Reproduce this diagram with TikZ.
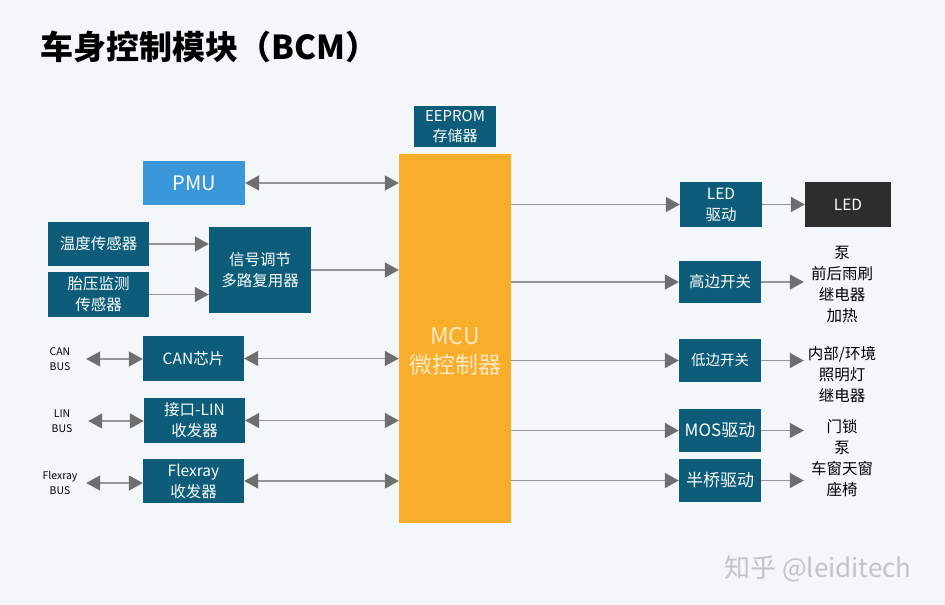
\documentclass[tikz,border=0pt]{standalone}
\usepackage{fontspec}
\setmainfont{Noto Sans CJK SC}
\usetikzlibrary{arrows.meta}

\definecolor{bgcol}{RGB}{244,247,250}
\definecolor{boxteal}{RGB}{12,92,122}
\definecolor{mcuorange}{RGB}{249,174,43}
\definecolor{mcutext}{RGB}{253,232,196}
\definecolor{pmublue}{RGB}{58,151,217}
\definecolor{leddark}{RGB}{45,45,45}
\definecolor{linegray}{RGB}{150,150,150}
\definecolor{tipgray}{RGB}{110,110,110}
\definecolor{markgray}{RGB}{195,195,195}

\begin{document}
\begin{tikzpicture}[x=1pt,y=-1pt,
  >={Triangle[length=14pt,width=15pt,color=tipgray]},
  blk/.style={fill=boxteal,text=white,inner sep=0pt,align=center,
    font=\fontsize{15.5}{21}\selectfont},
  big/.style={font=\fontsize{17}{21}\selectfont},
  bus/.style={align=center,inner sep=0pt,minimum width=52pt,
    font=\fontsize{10.5}{15}\selectfont},
  load/.style={align=center,inner sep=0pt,minimum width=76pt,
    font=\fontsize{15.5}{21}\selectfont},
  link/.style={draw=linegray,line width=1.6pt}]
  \useasboundingbox[fill=bgcol] (0,0) rectangle (945,605);
  % Title
  \node[anchor=west,inner sep=0pt,font=\fontsize{33}{36}\selectfont\bfseries]
    (title) at (40,47) {车身控制模块（BCM）};
  % Controller
  \node[fill=boxteal,text=white,inner sep=0pt,align=center,
    minimum width=82pt,minimum height=41pt,
    font=\fontsize{15}{20}\selectfont] (eeprom) at (455,126.5) {EEPROM\\存储器};
  \node[fill=mcuorange,minimum width=112pt,minimum height=369pt] (mcu) at (455,338.5) {};
  \node[text=mcutext,align=center,font=\fontsize{23}{29}\selectfont]
    (mcutxt) at (455,351) {MCU\\微控制器};
  % Left blocks
  \node[fill=pmublue,text=white,inner sep=0pt,minimum width=102pt,minimum height=44pt,
    font=\fontsize{20}{24}\selectfont] (pmu) at (194,183) {PMU};
  \node[blk,minimum width=101pt,minimum height=44pt] (temp) at (98.5,244) {温度传感器};
  \node[blk,minimum width=101pt,minimum height=45pt] (tire) at (98.5,294.5) {胎压监测\\传感器};
  \node[blk,minimum width=102pt,minimum height=86pt] (mux) at (260,270) {信号调节\\多路复用器};
  \node[blk,minimum width=101pt,minimum height=45pt] (can) at (193.5,358.5) {CAN芯片};
  \node[blk,minimum width=101pt,minimum height=45pt] (lin) at (194.5,420.5) {接口-LIN\\收发器};
  \node[blk,minimum width=101pt,minimum height=44pt] (flex) at (193.5,481) {Flexray\\收发器};
  % Bus labels
  \node[bus] (canbus) at (60,359) {CAN\\BUS};
  \node[bus] (linbus) at (62,421) {LIN\\BUS};
  \node[bus] (flexbus) at (60,483) {Flexray\\BUS};
  % Right blocks
  \node[blk,minimum width=82pt,minimum height=45pt] (leddrv) at (721,204.5) {LED\\驱动};
  \node[fill=leddark,text=white,inner sep=0pt,minimum width=86pt,minimum height=45pt,
    font=\fontsize{15.5}{21}\selectfont] (led) at (848,204.5) {LED};
  \node[blk,minimum width=82pt,minimum height=42pt] (hs) at (720,282) {高边开关};
  \node[blk,minimum width=82pt,minimum height=43pt,
    font=\fontsize{14.5}{20}\selectfont] (ls) at (720,360.5) {低边开关};
  \node[blk,big,minimum width=82pt,minimum height=43pt] (mos) at (720,430.5) {MOS驱动};
  \node[blk,big,minimum width=82pt,minimum height=43pt] (hb) at (720,480.5) {半桥驱动};
  % Loads
  \node[load,anchor=north] (hsout) at (842,246) {泵\\前后雨刷\\继电器\\加热};
  \node[load,anchor=north] (lsout) at (842,346) {内部/环境\\照明灯\\继电器};
  \node[load,anchor=north] (mosout) at (842,419) {门锁\\泵\\车窗天窗\\座椅};
  % Connections, left side
  \draw[link,<->] (pmu.east) -- (pmu.east -| mcu.west);
  \draw[link,->] (temp.east) -- (temp.east -| mux.west);
  \draw[link,->] (tire.east) -- (tire.east -| mux.west);
  \draw[link,->] (mux.east) -- (mux.east -| mcu.west);
  \draw[link,<->] (canbus.east) -- (canbus.east -| can.west);
  \draw[link,<->] (linbus.east) -- (linbus.east -| lin.west);
  \draw[link,<->] (flexbus.east) -- (flexbus.east -| flex.west);
  \draw[link,<->] (can.east) -- (can.east -| mcu.west);
  \draw[link,<->] (lin.east) -- (lin.east -| mcu.west);
  \draw[link,<->] (flex.east) -- (flex.east -| mcu.west);
  % Connections, right side
  \foreach \blk in {leddrv,hs,ls,mos,hb}
    \draw[link,->] (mcu.east |- \blk.west) -- (\blk.west);
  \draw[link,->] (leddrv.east) -- (led.west);
  \draw[link,->] (hs.east) -- (hs.east -| hsout.west);
  \draw[link,->] (ls.east) -- (ls.east -| lsout.west);
  \draw[link,->] (mos.east) -- (mos.east -| mosout.west);
  \draw[link,->] (hb.east) -- (hb.east -| mosout.west);
  % Watermark
  \node[text=markgray,font=\fontsize{26}{30}\selectfont] (mark) at (818,569) {知乎 @leiditech};
\end{tikzpicture}
\end{document}
